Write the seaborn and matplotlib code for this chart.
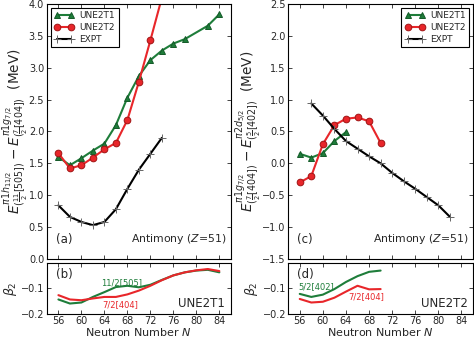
import numpy as np
import pandas as pd
import matplotlib
matplotlib.use("Agg")
import matplotlib.pyplot as plt
import seaborn as sns

# ---------------- data ----------------
# Panel (a): E(11/2[505]) - E(7/2[404])
a_t1_N = [56, 58, 60, 62, 64, 66, 68, 70, 72, 74, 76, 78, 82, 84]
a_t1_E = [1.60, 1.47, 1.58, 1.70, 1.81, 2.10, 2.53, 2.87, 3.12, 3.27, 3.38, 3.45, 3.66, 3.84]
a_t2_N = [56, 58, 60, 62, 64, 66, 68, 70, 72, 74, 76]
a_t2_E = [1.66, 1.42, 1.47, 1.59, 1.72, 1.82, 2.18, 2.78, 3.43, 4.10, 4.60]
a_ex_N = [56, 58, 60, 62, 64, 66, 68, 70, 72, 74]
a_ex_E = [0.84, 0.66, 0.58, 0.53, 0.58, 0.78, 1.10, 1.40, 1.65, 1.90]

# Panel (b): beta2 for UNE2T1
b_N = [56, 58, 60, 62, 64, 66, 68, 70, 72, 74, 76, 78, 80, 82, 84]
b_505 = [-0.144, -0.160, -0.156, -0.134, -0.115, -0.095, -0.090, -0.096, -0.086,
         -0.067, -0.049, -0.037, -0.030, -0.027, -0.037]
b_404 = [-0.127, -0.144, -0.147, -0.140, -0.134, -0.134, -0.124, -0.109, -0.090,
         -0.068, -0.049, -0.037, -0.029, -0.024, -0.032]

# Panel (c): E(7/2[404]) - E(5/2[402])
c_t1_N = [56, 58, 60, 62, 64]
c_t1_E = [0.15, 0.09, 0.16, 0.35, 0.49]
c_t2_N = [56, 58, 60, 62, 64, 66, 68, 70]
c_t2_E = [-0.30, -0.20, 0.30, 0.60, 0.70, 0.72, 0.66, 0.32]
c_ex_N = [58, 60, 62, 64, 66, 68, 70, 72, 74, 76, 78, 80, 82]
c_ex_E = [0.94, 0.75, 0.54, 0.35, 0.23, 0.11, 0.00, -0.15, -0.28, -0.40, -0.53, -0.66, -0.84]

# Panel (d): beta2 for UNE2T2
d_N = [56, 58, 60, 62, 64, 66, 68, 70]
d_402 = [-0.122, -0.134, -0.125, -0.103, -0.075, -0.052, -0.035, -0.030]
d_404 = [-0.142, -0.156, -0.153, -0.137, -0.113, -0.090, -0.104, -0.103]

x_ticks = [56, 60, 64, 68, 72, 76, 80, 84]

# ---------------- style ----------------
sns.set_theme(style="ticks")
plt.rcParams['font.family'] = ['DejaVu Sans']
plt.rcParams['mathtext.fontset'] = 'dejavusans'
plt.rcParams['xtick.direction'] = 'in'
plt.rcParams['ytick.direction'] = 'in'

GREEN = '#1e7d3a'
GREEN_E = '#145a28'
RED = '#e8262a'
RED_E = '#a01414'

fig = plt.figure(figsize=(4.74, 3.38), dpi=100)

axa = fig.add_axes([0.099, 0.234, 0.388, 0.754])
axb = fig.add_axes([0.099, 0.072, 0.388, 0.150])
axc = fig.add_axes([0.608, 0.234, 0.390, 0.754])
axd = fig.add_axes([0.608, 0.072, 0.390, 0.150])


def series(ax, N, E, color, ec, marker, ms, label):
    df = pd.DataFrame({"N": N, "E": E})
    sns.lineplot(data=df, x="N", y="E", ax=ax, color=color, lw=1.5,
                 marker=marker, markersize=ms, markerfacecolor=color,
                 markeredgecolor=ec, markeredgewidth=0.7, label=label)


def top_panel(ax, t1N, t1E, t2N, t2E, exN, exE, ylim, yticks, ylabel, tag, loc):
    series(ax, t1N, t1E, GREEN, GREEN_E, '^', 4.8, 'UNE2T1')
    series(ax, t2N, t2E, RED, RED_E, 'o', 4.8, 'UNE2T2')
    df = pd.DataFrame({"N": exN, "E": exE})
    sns.lineplot(data=df, x="N", y="E", ax=ax, color='black', lw=1.5,
                 marker='+', markersize=6, markeredgewidth=0.7,
                 markeredgecolor='0.4', label='EXPT')
    ax.set_xlim(54, 86)
    ax.set_ylim(*ylim)
    ax.set_yticks(yticks)
    ax.set_xticks(x_ticks)
    ax.set_xticklabels([])
    ax.set_xlabel('')
    ax.set_ylabel(ylabel, fontsize=9.8, labelpad=-1)
    ax.tick_params(labelsize=7, top=True, right=True, length=3, width=0.6, pad=2)
    ax.text(0.05, 0.05, tag, transform=ax.transAxes, fontsize=8.5, ha='left', va='bottom')
    ax.text(0.975, 0.05, r'Antimony ($Z$=51)', transform=ax.transAxes, fontsize=7.8,
            ha='right', va='bottom')
    leg = ax.legend(loc=loc, numpoints=2, fontsize=6.5, frameon=True, fancybox=False,
                    handlelength=2.2, borderpad=0.4, labelspacing=0.3,
                    handletextpad=0.6, borderaxespad=0.4)
    leg.get_frame().set_edgecolor('black')
    leg.get_frame().set_linewidth(0.8)
    leg.get_frame().set_alpha(1)
    for s in ax.spines.values():
        s.set_linewidth(0.8)
        s.set_color('black')


def bottom_panel(ax, N, g, r, tag, name, gtxt, gpos, rtxt, rpos):
    dfg = pd.DataFrame({"N": N, "b": g})
    dfr = pd.DataFrame({"N": N, "b": r})
    sns.lineplot(data=dfg, x="N", y="b", ax=ax, color=GREEN, lw=1.5)
    sns.lineplot(data=dfr, x="N", y="b", ax=ax, color=RED, lw=1.5)
    ax.set_xlim(54, 86)
    ax.set_ylim(-0.2, 0.0)
    ax.set_yticks([-0.2, -0.1])
    ax.set_yticklabels(['\u22120.2', '\u22120.1'])
    ax.set_xticks(x_ticks)
    ax.set_xlabel(r'Neutron Number $N$', fontsize=8, labelpad=0.5)
    ax.set_ylabel(r'$\beta_2$', fontsize=9, labelpad=2)
    ax.tick_params(labelsize=7, top=True, right=True, length=3, width=0.6, pad=1.5)
    ax.text(0.05, 0.9, tag, transform=ax.transAxes, fontsize=8.5, ha='left', va='top')
    ax.text(0.97, 0.07, name, transform=ax.transAxes, fontsize=8.5, ha='right', va='bottom')
    ax.text(gpos[0], gpos[1], gtxt, color=GREEN, fontsize=6, ha='center', va='center')
    ax.text(rpos[0], rpos[1], rtxt, color=RED, fontsize=6, ha='center', va='center')
    for s in ax.spines.values():
        s.set_linewidth(0.8)
        s.set_color('black')


ylab_a = (r'$E^{\pi 1h_{11/2}}_{(\frac{11}{2}[505])} - '
          r'E^{\pi 1g_{7/2}}_{(\frac{7}{2}[404])}$  (MeV)')
ylab_c = (r'$E^{\pi 1g_{7/2}}_{(\frac{7}{2}[404])} - '
          r'E^{\pi 2d_{5/2}}_{(\frac{5}{2}[402])}$  (MeV)')

top_panel(axa, a_t1_N, a_t1_E, a_t2_N, a_t2_E, a_ex_N, a_ex_E,
          (0.0, 4.0), np.arange(0, 4.01, 0.5), ylab_a, '(a)', 'upper left')
top_panel(axc, c_t1_N, c_t1_E, c_t2_N, c_t2_E, c_ex_N, c_ex_E,
          (-1.5, 2.5), np.arange(-1.5, 2.51, 0.5), ylab_c, '(c)', 'upper right')
axc.set_yticklabels([f'{v:.1f}'.replace('-', '\u2212') for v in np.arange(-1.5, 2.51, 0.5)])

bottom_panel(axb, b_N, b_505, b_404, '(b)', 'UNE2T1',
             '11/2[505]', (67.0, -0.077), '7/2[404]', (66.8, -0.163))
bottom_panel(axd, d_N, d_402, d_404, '(d)', 'UNE2T2',
             '5/2[402]', (58.9, -0.095), '7/2[404]', (67.5, -0.134))

fig.savefig('out.png', dpi=100)
